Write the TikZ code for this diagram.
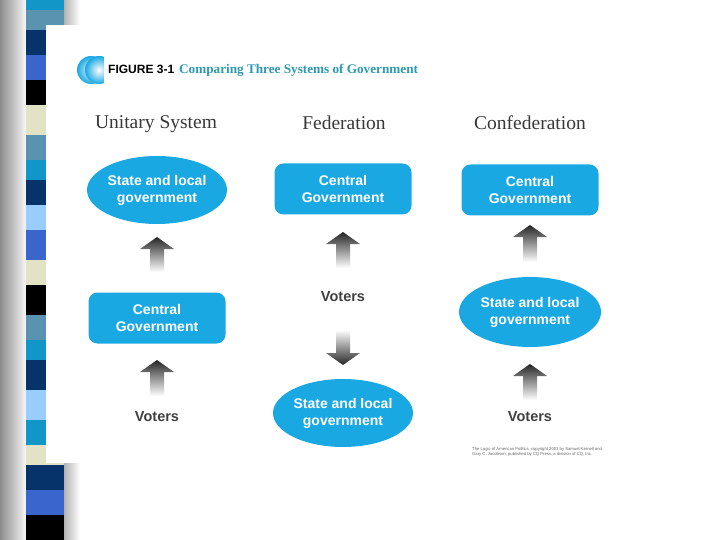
\documentclass[tikz,border=0pt]{standalone}
\usepackage{fontspec}
\usetikzlibrary{shapes.geometric}
\setmainfont{Liberation Serif}
\setsansfont{Liberation Sans}
\begin{document}
\begin{tikzpicture}[x=1pt,y=-1pt,
  boxtxt/.style={text=white,font=\sffamily\bfseries\fontsize{14}{17}\selectfont,align=center},
  ell/.style={ellipse,fill=cyanbox,boxtxt,inner sep=0pt,minimum width=140,minimum height=68},
  rbox/.style={rectangle,rounded corners=9,fill=cyanbox,boxtxt,minimum width=137,minimum height=51},
  hdr/.style={font=\fontsize{19.5}{22}\selectfont,text=black!78},
  vot/.style={font=\sffamily\bfseries\fontsize{14.5}{16}\selectfont,text=black!75}]
\definecolor{cyanbox}{HTML}{1AA8E2}
\definecolor{steel}{HTML}{5A93B0}
\definecolor{navy}{HTML}{06346A}
\definecolor{blu}{HTML}{3A66CC}
\definecolor{beige}{HTML}{E2E2C4}
\definecolor{lblue}{HTML}{99CCFF}
\definecolor{cy}{HTML}{1296C8}
\definecolor{titl}{HTML}{2E9AB0}
\useasboundingbox (0,0) rectangle (720,540);
\fill[white] (0,0) rectangle (720,540);
\shade[left color=black!45,right color=white] (0,0) rectangle (28,540);
\foreach \a/\b/\c in {0/10/cy,10/30/steel,30/55/navy,55/80/blu,80/105/black,105/135/beige,135/160/steel,160/180/cy,180/205/navy,205/230/lblue,230/260/blu,260/285/beige,285/315/black,315/340/steel,340/360/cy,360/390/navy,390/420/lblue,420/445/cy,445/465/beige,465/490/navy,490/515/blu,515/540/black}
  \fill[\c] (26,\a) rectangle (64,\b);
\shade[left color=black!30,right color=white] (64,0) rectangle (80,540);
\fill[white] (46,25) rectangle (720,463);
% logo
\shade[inner color=white,outer color=cyanbox] (91,70) circle (14);
\shade[inner color=white,outer color=cyanbox] (99,70) circle (14);
\fill[white] (104,50) rectangle (116,90);
\node[anchor=west,inner sep=0] (title) at (108,70) {\sffamily\bfseries\fontsize{12}{14}\selectfont FIGURE 3-1\hspace{5pt}{\rmfamily\fontsize{13.2}{15}\selectfont\color{titl}Comparing Three Systems of Government}};
% headers
\node[hdr] (h1) at (156,124) {Unitary System};
\node[hdr] (h2) at (344,123) {Federation};
\node[hdr] (h3) at (530,123) {Confederation};
% unitary
\node[ell] (u1) at (157,190) {State and local\\government};
\node[rbox] (u2) at (157,318) {Central\\Government};
\node[vot] (u3) at (157,417) {Voters};
% federation
\node[rbox] (f1) at (343,189) {Central\\Government};
\node[vot] (f2) at (343,297) {Voters};
\node[ell] (f3) at (343,413) {State and local\\government};
% confederation
\node[rbox] (c1) at (530,190) {Central\\Government};
\node[ell,minimum width=142,minimum height=70] (c2) at (530,312) {State and local\\government};
\node[vot] (c3) at (530,417) {Voters};
% arrows
\foreach \x/\t/\bt in {157/237/272,157/360/396,343/232/268,530/225/262,530/364/400}{
  \shade[top color=black!85,bottom color=white] (\x,\t) -- (\x+17,\t+12) -- (\x+7,\t+12) -- (\x+7,\bt) -- (\x-7,\bt) -- (\x-7,\t+12) -- (\x-17,\t+12) -- cycle;}
\shade[top color=white,bottom color=black!85] (343,365) -- (360,353) -- (350,353) -- (350,330) -- (336,330) -- (336,353) -- (326,353) -- cycle;
\node[anchor=north west,inner sep=0,align=left,text=black!60,font=\sffamily\fontsize{4.2}{5.5}\selectfont] (fn) at (472,447) {The Logic of American Politics, copyright 2003 by Samuel Kernell and\\Gary C. Jacobson, published by CQ Press, a division of CQ, Inc.};
\end{tikzpicture}
\end{document}
